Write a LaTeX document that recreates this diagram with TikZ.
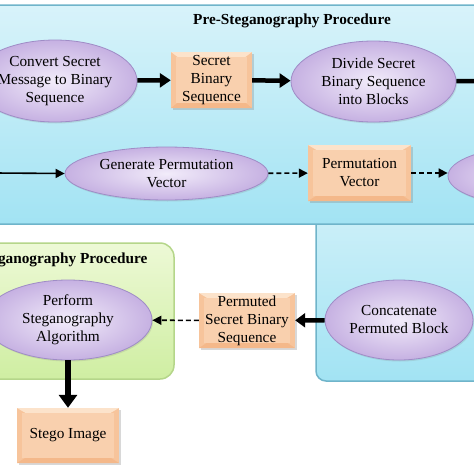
\documentclass[tikz,border=0pt]{standalone}
\usepackage{fontspec}
\setmainfont{Liberation Serif}
\usetikzlibrary{arrows.meta,shapes.geometric,shadows}
\definecolor{panelTop}{HTML}{D8F3FA}
\definecolor{panelBot}{HTML}{A2E3F3}
\definecolor{panelEdge}{HTML}{6FB4CA}
\definecolor{greenTop}{HTML}{EDF9D6}
\definecolor{greenBot}{HTML}{CFEEA2}
\definecolor{greenEdge}{HTML}{B5D68A}
\definecolor{ellIn}{HTML}{F2ECFA}
\definecolor{ellOut}{HTML}{C6B1E2}
\definecolor{ellEdge}{HTML}{9F8CC6}
\definecolor{boxMid}{HTML}{F7C49B}
\definecolor{boxLight}{HTML}{FCE3CB}
\definecolor{boxDark}{HTML}{F4B88A}
\tikzset{
  x=1pt, y=-1pt,
  txt/.style={font=\fontsize{15.3}{18}\selectfont, text=black, align=center},
  ell/.style={ellipse, txt, inner sep=0pt, inner color=ellIn, outer color=ellOut,
    draw=ellEdge, line width=0.8pt, drop shadow={opacity=0.2, shadow xshift=1pt, shadow yshift=-1.5pt}},
  boxx/.style={rectangle, txt, inner sep=0pt, fill=boxMid,
    drop shadow={opacity=0.3, shadow xshift=1.5pt, shadow yshift=-1.5pt},
    path picture={
      \fill[boxDark] (path picture bounding box.south west) -- (path picture bounding box.south east)
        -- ([yshift=4pt]path picture bounding box.center) -- cycle;
      \fill[boxLight] (path picture bounding box.north west) -- (path picture bounding box.north east)
        -- ([yshift=-2pt]path picture bounding box.center) -- cycle;
      \fill[boxMid!60!boxLight] ([xshift=5pt,yshift=-5pt]path picture bounding box.north west) rectangle ([xshift=-5pt,yshift=5pt]path picture bounding box.south east);
    }},
  bigarrow/.style={line width=4.5pt, -{Triangle[length=11pt,width=14pt]}},
  thinarrow/.style={line width=1.6pt, -{Triangle[length=9pt,width=9pt]}},
  dasharrow/.style={line width=1.6pt, dash pattern=on 5pt off 3pt, -{Triangle[length=9pt,width=9pt]}},
  title/.style={font=\fontsize{15.3}{18}\selectfont\bfseries, text=black},
}
\begin{document}
\begin{tikzpicture}
\useasboundingbox (0,0) rectangle (474,474);
\fill[white] (0,0) rectangle (474,474);
\clip (0,0) rectangle (474,474);
% panels
\draw[panelEdge, line width=1.5pt, rounded corners=10pt, top color=panelTop!80!panelBot, bottom color=panelBot]
  (316,210) rectangle (500,381);
\draw[panelEdge, line width=1.5pt, rounded corners=8pt, top color=panelTop, bottom color=panelBot]
  (-20,5) rectangle (500,224);
\draw[greenEdge, line width=1.5pt, rounded corners=14pt, top color=greenTop, bottom color=greenBot]
  (-20,243) rectangle (174,379);
% titles
\node[title] (t1) at (292,21) {Pre-Steganography Procedure};
\node[title, anchor=east] (t2) at (151,260) {Steganography Procedure};
% row 1
\node[ell, minimum width=164pt, minimum height=82pt] (conv) at (55,81) {Convert Secret\\Message to Binary\\Sequence};
\node[boxx, minimum width=81pt, minimum height=56pt] (sbs) at (211.5,80) {Secret\\Binary\\Sequence};
\node[ell, minimum width=165pt, minimum height=81pt] (div) at (373.5,81.5) {Divide Secret\\Binary Sequence\\into Blocks};
\coordinate (out1) at (490,81);
% row 2
\coordinate (in2) at (-5,173);
\node[ell, minimum width=203pt, minimum height=53pt] (gen) at (166.5,173.5) {Generate Permutation\\Vector};
\node[boxx, minimum width=103pt, minimum height=56pt] (pv) at (359.5,173) {Permutation\\Vector};
\node[ell, minimum width=164pt, minimum height=58pt] (rell) at (530,176) {};
% row 3
\node[ell, minimum width=168pt, minimum height=80pt] (perf) at (68,320) {Perform\\Steganography\\Algorithm};
\node[boxx, minimum width=96pt, minimum height=55pt] (psbs) at (247,320.5) {Permuted\\Secret Binary\\Sequence};
\node[ell, minimum width=148pt, minimum height=80pt] (conc) at (399,320) {Concatenate\\Permuted Block};
\node[boxx, minimum width=102pt, minimum height=55pt] (stego) at (68,435.5) {Stego Image};
% connectors
\draw[bigarrow] (conv) -- (sbs);
\draw[bigarrow] (sbs) -- (div);
\draw[line width=4.5pt] (div) -- (out1);
\draw[thinarrow] (in2) -- (gen.west);
\draw[dasharrow] (gen) -- (pv);
\draw[dasharrow] (pv) -- (rell.west |- pv.east);
\draw[line width=4.5pt, -{Triangle[length=10pt,width=14pt]}] (conc) -- (psbs);
\draw[dasharrow] (psbs) -- (perf);
\draw[line width=6pt, -{Triangle[length=13pt,width=18pt]}] (perf) -- (stego);
\end{tikzpicture}
\end{document}
